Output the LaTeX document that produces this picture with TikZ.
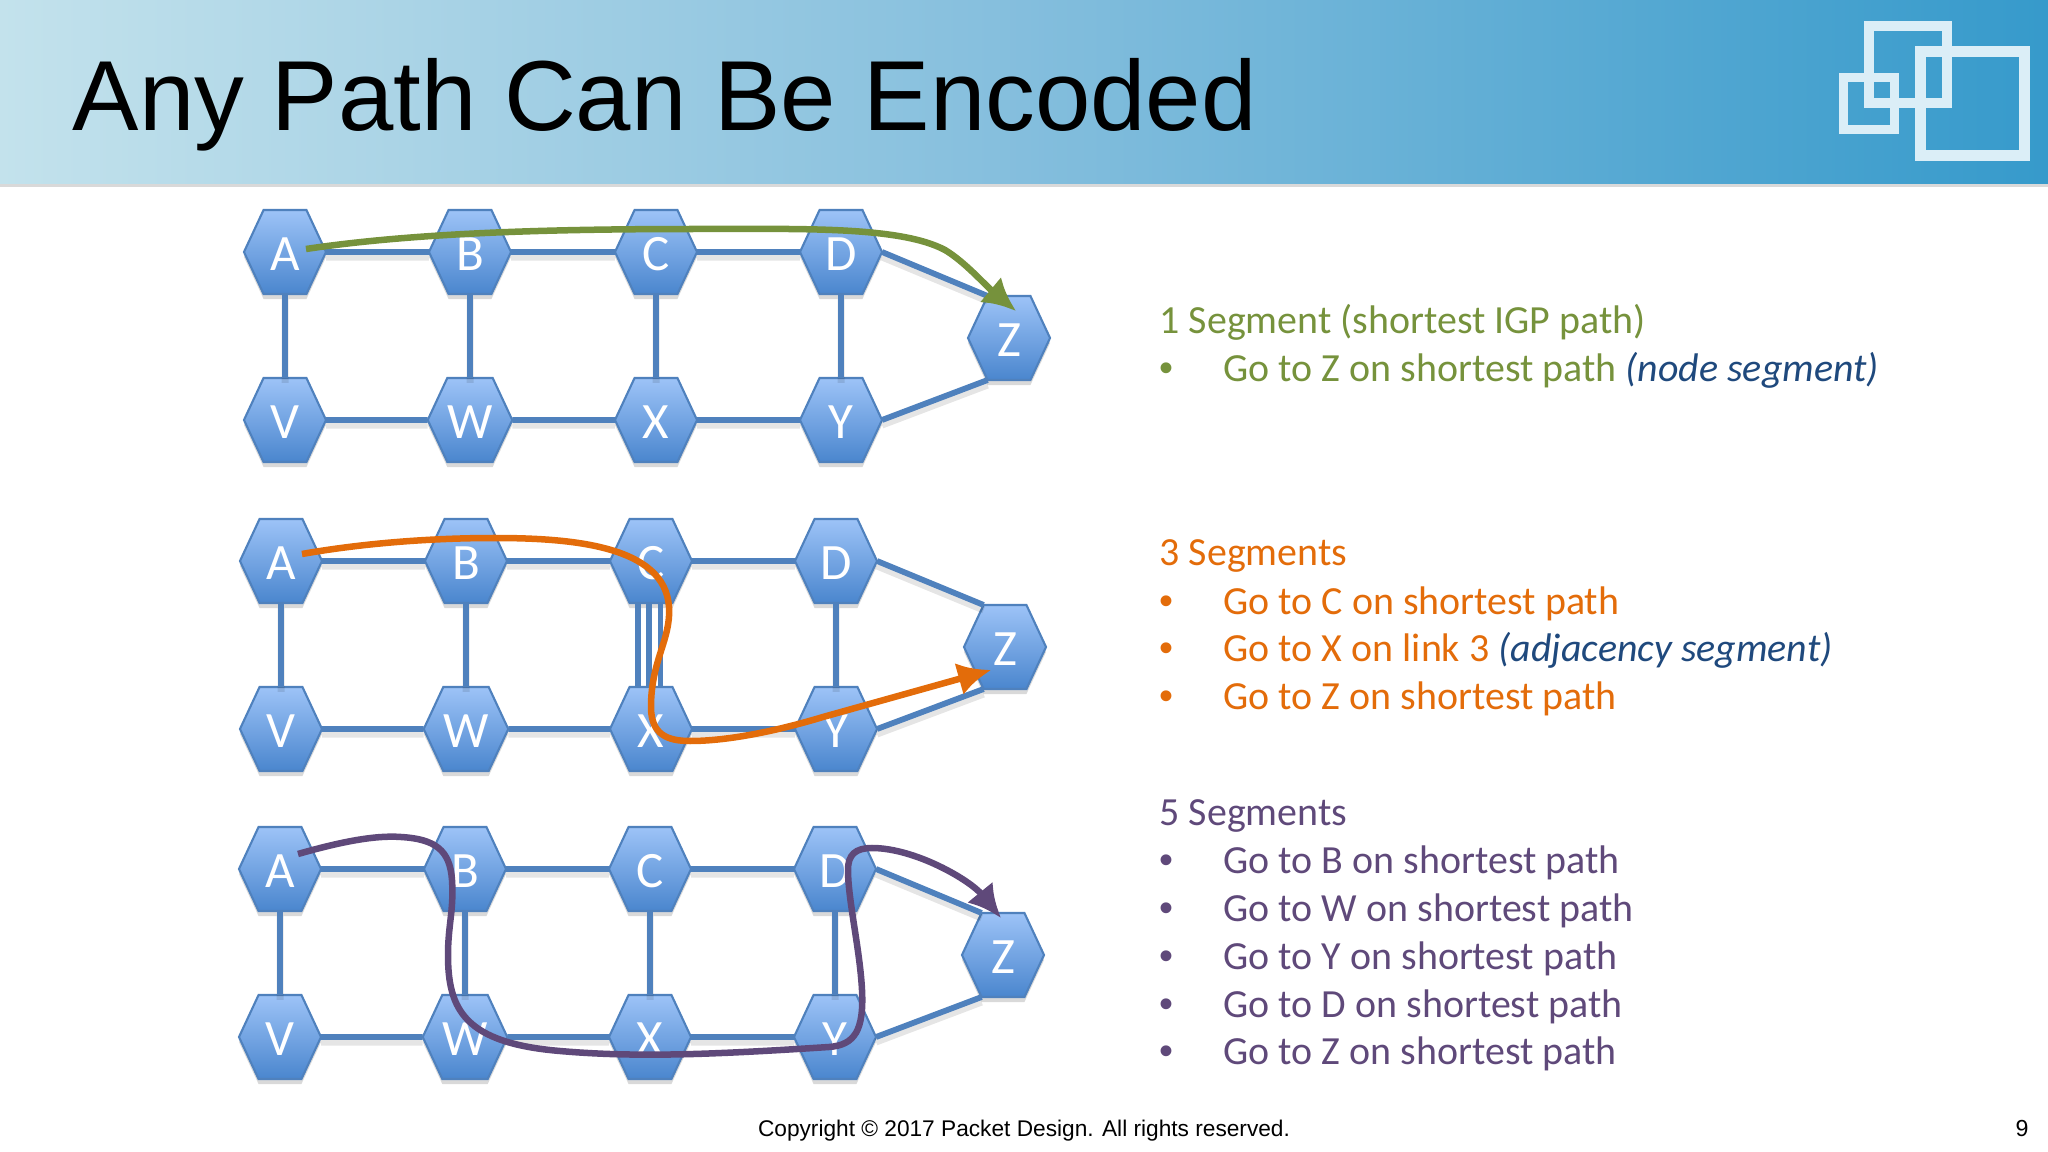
\documentclass[tikz,border=0pt]{standalone}
\usepackage{fontspec}
\usepackage{tkz-graph}
\usetikzlibrary{shapes.symbols, shadows, arrows.meta}
\setmainfont{Carlito}
\newfontfamily\arialfont{Liberation Sans}
\definecolor{segGreen}{HTML}{76923C}
\definecolor{segOrange}{HTML}{E36C0A}
\definecolor{segPurple}{HTML}{5F497A}
\definecolor{noteBlue}{HTML}{1F497D}
\definecolor{linkBlue}{HTML}{4F81BD}
\definecolor{hexTop}{HTML}{9DC3F7}
\definecolor{hexBottom}{HTML}{4A86CE}
\definecolor{headLeft}{HTML}{C3E2EC}
\definecolor{headMid}{HTML}{84BEDD}
\definecolor{headRight}{HTML}{369ACB}
\definecolor{logoTint}{HTML}{DBEEF7}
\begin{document}
\begin{tikzpicture}[x = 0.01cm, y = -0.01cm]
\useasboundingbox (0, 0) rectangle (2048, 1152);
\tikzstyle{VertexStyle} = []
\tikzstyle{EdgeStyle} = [line width = 0.058cm, color = linkBlue, preaction = {draw = black, opacity = 0.1, line width = 0.07cm, transform canvas = {yshift = -0.05cm}}]
\tikzstyle{hexStyle} = [shape = signal, signal to = east and west, signal pointer angle = 130, minimum width = 0.82cm, minimum height = 0.84cm, inner sep = 0pt, text height = 0.36cm, text depth = 0pt, draw = linkBlue, line width = 0.6pt, top color = hexTop, bottom color = hexBottom, text = white, font = \fontsize{14.5pt}{16pt}\selectfont, drop shadow = {shadow xshift = 0pt, shadow yshift = -0.05cm, fill = black, opacity = 0.15}]
\tikzstyle{linkStyle} = [line width = 0.058cm, color = linkBlue]
\tikzstyle{pathStyle} = [line width = 0.065cm, -{Latex[length = 0.33cm, width = 0.33cm]}]
\tikzstyle{lineStyle} = [anchor = base west, inner sep = 0pt, font = \fontsize{11.35pt}{14pt}\selectfont]
\tikzstyle{dotStyle} = [anchor = base west, inner sep = 0pt, font = \arialfont\fontsize{11.35pt}{14pt}\selectfont]
\tikzstyle{logoStyle} = [draw = logoTint]
% header
\shade[left color = headLeft, right color = headRight, middle color = headMid] (0, 0) rectangle (2048, 184);
\fill[black, opacity = 0.15] (0, 184) rectangle (2048, 187);
\draw[logoStyle, line width = 0.1cm] (1869, 26) rectangle (1947, 103);
\draw[logoStyle, line width = 0.11cm] (1920.5, 51.5) rectangle (2024.5, 155.5);
\draw[logoStyle, line width = 0.09cm] (1843.5, 77.5) rectangle (1894.5, 129.5);
\node[anchor = base west, inner sep = 0pt, font = \arialfont\fontsize{28.3pt}{30pt}\selectfont] (title) at (72, 131) {Any Path Can Be Encoded};
% top network
\Vertex[style = hexStyle, x = 285, y = 252, L = {A}]{a0}
\Vertex[style = hexStyle, x = 470, y = 252, L = {B}]{a1}
\Vertex[style = hexStyle, x = 656, y = 252, L = {C}]{a2}
\Vertex[style = hexStyle, x = 841, y = 252, L = {D}]{a3}
\Vertex[style = hexStyle, x = 285, y = 420, L = {V}]{a4}
\Vertex[style = hexStyle, x = 470, y = 420, L = {W}]{a5}
\Vertex[style = hexStyle, x = 656, y = 420, L = {X}]{a6}
\Vertex[style = hexStyle, x = 841, y = 420, L = {Y}]{a7}
\Vertex[style = hexStyle, x = 1009, y = 338, L = {Z}]{a8}
\Edge(a0)(a1)
\Edge(a1)(a2)
\Edge(a2)(a3)
\Edge(a4)(a5)
\Edge(a5)(a6)
\Edge(a6)(a7)
\Edge(a0)(a4)
\Edge(a1)(a5)
\Edge(a2)(a6)
\Edge(a3)(a7)
\Edge(a3.east)(a8.117)
\Edge(a7.east)(a8.243)
% middle network
\Vertex[style = hexStyle, x = 281, y = 561, L = {A}]{b0}
\Vertex[style = hexStyle, x = 466, y = 561, L = {B}]{b1}
\Vertex[style = hexStyle, x = 651, y = 561, L = {C}]{b2}
\Vertex[style = hexStyle, x = 836, y = 561, L = {D}]{b3}
\Vertex[style = hexStyle, x = 281, y = 729, L = {V}]{b4}
\Vertex[style = hexStyle, x = 466, y = 729, L = {W}]{b5}
\Vertex[style = hexStyle, x = 651, y = 729, L = {X}]{b6}
\Vertex[style = hexStyle, x = 836, y = 729, L = {Y}]{b7}
\Vertex[style = hexStyle, x = 1005, y = 647, L = {Z}]{b8}
\Edge(b0)(b1)
\Edge(b1)(b2)
\Edge(b2)(b3)
\Edge(b4)(b5)
\Edge(b5)(b6)
\Edge(b6)(b7)
\Edge(b0)(b4)
\Edge(b1)(b5)
\Edge(b3)(b7)
\Edge(b3.east)(b8.117)
\Edge(b7.east)(b8.243)
\draw[linkStyle] ([xshift = -0.13cm]b2.south) -- ([xshift = -0.13cm]b6.north);
\draw[linkStyle] ([xshift = -0.02cm]b2.south) -- ([xshift = -0.02cm]b6.north);
\draw[linkStyle] ([xshift = 0.095cm]b2.south) -- ([xshift = 0.095cm]b6.north);
% bottom network
\Vertex[style = hexStyle, x = 280, y = 869, L = {A}]{c0}
\Vertex[style = hexStyle, x = 465, y = 869, L = {B}]{c1}
\Vertex[style = hexStyle, x = 650, y = 869, L = {C}]{c2}
\Vertex[style = hexStyle, x = 835, y = 869, L = {D}]{c3}
\Vertex[style = hexStyle, x = 280, y = 1037, L = {V}]{c4}
\Vertex[style = hexStyle, x = 465, y = 1037, L = {W}]{c5}
\Vertex[style = hexStyle, x = 650, y = 1037, L = {X}]{c6}
\Vertex[style = hexStyle, x = 835, y = 1037, L = {Y}]{c7}
\Vertex[style = hexStyle, x = 1003, y = 955, L = {Z}]{c8}
\Edge(c0)(c1)
\Edge(c1)(c2)
\Edge(c2)(c3)
\Edge(c4)(c5)
\Edge(c5)(c6)
\Edge(c6)(c7)
\Edge(c0)(c4)
\Edge(c1)(c5)
\Edge(c2)(c6)
\Edge(c3)(c7)
\Edge(c3.east)(c8.117)
\Edge(c7.east)(c8.243)
% paths
\coordinate (gs) at (306, 249);
\coordinate (ge) at (1016, 311);
\draw[pathStyle, segGreen] (gs) .. controls (420, 232) and (560, 229) .. (700, 229) .. controls (800, 229) and (900, 226) .. (945, 250) .. controls (965, 262) and (985, 285) .. (ge);
\coordinate (os) at (302, 554);
\coordinate (oe) at (991, 670);
\draw[pathStyle, segOrange] (os) .. controls (370, 542) and (440, 538) .. (494, 538) .. controls (570, 538) and (665, 545) .. (669, 607) .. controls (671, 640) and (651, 660) .. (651, 707) .. controls (651, 735) and (668, 741) .. (690, 741) .. controls (730, 741) and (780, 730) .. (823, 717) -- (oe);
\coordinate (ps) at (298, 854);
\coordinate (pe) at (1001, 918);
\draw[pathStyle, segPurple] (ps) .. controls (340, 842) and (375, 835) .. (401, 837) .. controls (435, 839) and (450, 850) .. (452, 880) .. controls (454, 910) and (448, 925) .. (448, 955) .. controls (448, 1010) and (465, 1043) .. (560, 1051) .. controls (640, 1058) and (720, 1054) .. (829, 1047) .. controls (855, 1045) and (864, 1030) .. (862, 990) .. controls (860, 950) and (848, 900) .. (848, 870) .. controls (848, 855) and (855, 848) .. (872, 848) .. controls (915, 848) and (970, 880) .. (pe);
% text
\node[lineStyle, segGreen] (t0) at (1159, 334) {1 Segment (shortest IGP path)};
\node[dotStyle, segGreen] (d1) at (1159, 382) {•};
\node[lineStyle, segGreen] (t1) at (1223, 382) {Go to Z on shortest path \textit{\textcolor{noteBlue}{(node segment)}}};
\node[lineStyle, segOrange] (t2) at (1159, 565) {3 Segments};
\node[dotStyle, segOrange] (d3) at (1159, 614) {•};
\node[lineStyle, segOrange] (t3) at (1223, 614) {Go to C on shortest path};
\node[dotStyle, segOrange] (d4) at (1159, 661) {•};
\node[lineStyle, segOrange] (t4) at (1223, 661) {Go to X on link 3 \textit{\textcolor{noteBlue}{(adjacency segment)}}};
\node[dotStyle, segOrange] (d5) at (1159, 709) {•};
\node[lineStyle, segOrange] (t5) at (1223, 709) {Go to Z on shortest path};
\node[lineStyle, segPurple] (t6) at (1159, 825) {5 Segments};
\node[dotStyle, segPurple] (d7) at (1159, 873) {•};
\node[lineStyle, segPurple] (t7) at (1223, 873) {Go to B on shortest path};
\node[dotStyle, segPurple] (d8) at (1159, 921) {•};
\node[lineStyle, segPurple] (t8) at (1223, 921) {Go to W on shortest path};
\node[dotStyle, segPurple] (d9) at (1159, 969) {•};
\node[lineStyle, segPurple] (t9) at (1223, 969) {Go to Y on shortest path};
\node[dotStyle, segPurple] (d10) at (1159, 1017) {•};
\node[lineStyle, segPurple] (t10) at (1223, 1017) {Go to D on shortest path};
\node[dotStyle, segPurple] (d11) at (1159, 1064) {•};
\node[lineStyle, segPurple] (t11) at (1223, 1064) {Go to Z on shortest path};
\node[anchor = base, font = \arialfont\fontsize{6.45pt}{8pt}\selectfont] (copy) at (1024, 1136) {Copyright © 2017 Packet Design. All rights reserved.};
\node[anchor = base, font = \arialfont\fontsize{6.6pt}{8pt}\selectfont] (page) at (2022, 1136) {9};
\end{tikzpicture}
\end{document}
